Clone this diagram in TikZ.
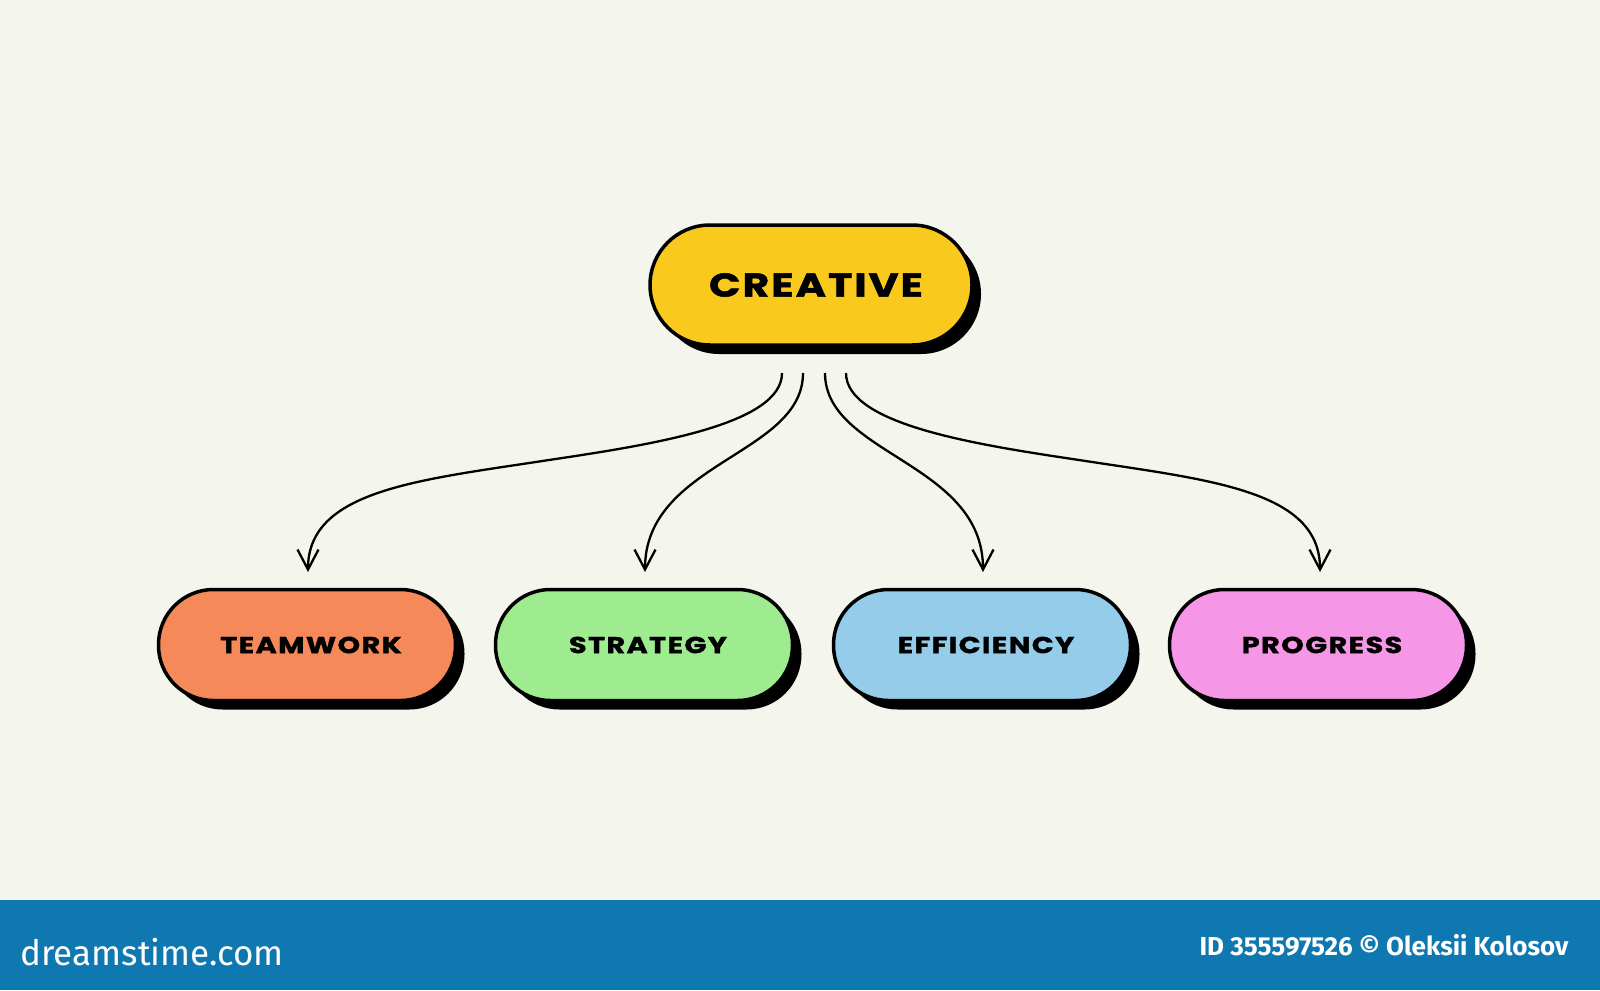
\documentclass[tikz,border=0pt]{standalone}
\usepackage{fontspec}
\usetikzlibrary{arrows.meta,shadows}
\newfontfamily\lblfont{Poppins}[FakeStretch=1.25,LetterSpace=6,BoldFont={Poppins Bold},BoldFeatures={FakeBold=1.5}]
\newfontfamily\barfont{Fira Sans}
\definecolor{bg}{HTML}{F4F5EC}
\definecolor{cyellow}{HTML}{F9C91E}
\definecolor{corange}{HTML}{F5895A}
\definecolor{cgreen}{HTML}{9EEC8F}
\definecolor{cblue}{HTML}{94CCEA}
\definecolor{cpink}{HTML}{F596E6}
\definecolor{cbar}{HTML}{0F78B0}
\tikzset{
  pill/.style={draw=black, line width=3.5pt, rounded corners=55pt,
    minimum width=297pt, minimum height=111pt, inner sep=0pt,
    general shadow={fill=black, shadow xshift=9pt, shadow yshift=-9pt},
    font=\lblfont\bfseries\fontsize{23}{23}\selectfont},
  toppill/.style={pill, rounded corners=60pt, minimum width=322pt, minimum height=120pt,
    font=\lblfont\bfseries\fontsize{33}{33}\selectfont},
  conn/.style={line width=2.3pt, -{Straight Barb[length=20pt,width=21pt,line width=2.3pt]}}
}
\begin{document}
\begin{tikzpicture}[x=1pt,y=-1pt]
\useasboundingbox (0,0) rectangle (1600,990);
\fill[bg] (0,0) rectangle (1600,990);
\fill[cbar] (0,900) rectangle (1600,990);
\node[anchor=west, text=white, font=\barfont\fontsize{35}{35}\selectfont] (logo) at (17,952) {dreamstime.com};
\node[anchor=east, text=white, font=\barfont\bfseries\fontsize{26}{26}\selectfont] (credit) at (1572,945) {ID 355597526 © Oleksii Kolosov};

\node[toppill, fill=cyellow] (creative) at (811,285) {\hspace*{10pt}CREATIVE};
\node[pill, fill=corange] (teamwork) at (307,645) {\hspace*{8pt}TEAMWORK};
\node[pill, fill=cgreen] (strategy) at (644,645) {\hspace*{8pt}STRATEGY};
\node[pill, fill=cblue] (efficiency) at (982,645) {\hspace*{8pt}EFFICIENCY};
\node[pill, fill=cpink] (progress) at (1318,645) {\hspace*{8pt}PROGRESS};

\coordinate (s1) at (782,373);
\coordinate (s2) at (803,373);
\coordinate (s3) at (825,373);
\coordinate (s4) at (846,373);
\coordinate (m1) at (549,460);
\coordinate (m4) at (1079,460);
\coordinate (e1) at (308,572);
\coordinate (e2) at (645,572);
\coordinate (e3) at (983,572);
\coordinate (e4) at (1320,572);

\draw[conn] (s1) .. controls (782,425) and (649,445) .. (m1)
                 .. controls (419,480) and (308,490) .. (e1);
\draw[conn] (s2) .. controls (803,455) and (645,462) .. (e2);
\draw[conn] (s3) .. controls (825,455) and (983,462) .. (e3);
\draw[conn] (s4) .. controls (846,425) and (979,445) .. (m4)
                 .. controls (1209,480) and (1320,490) .. (e4);
\end{tikzpicture}
\end{document}
